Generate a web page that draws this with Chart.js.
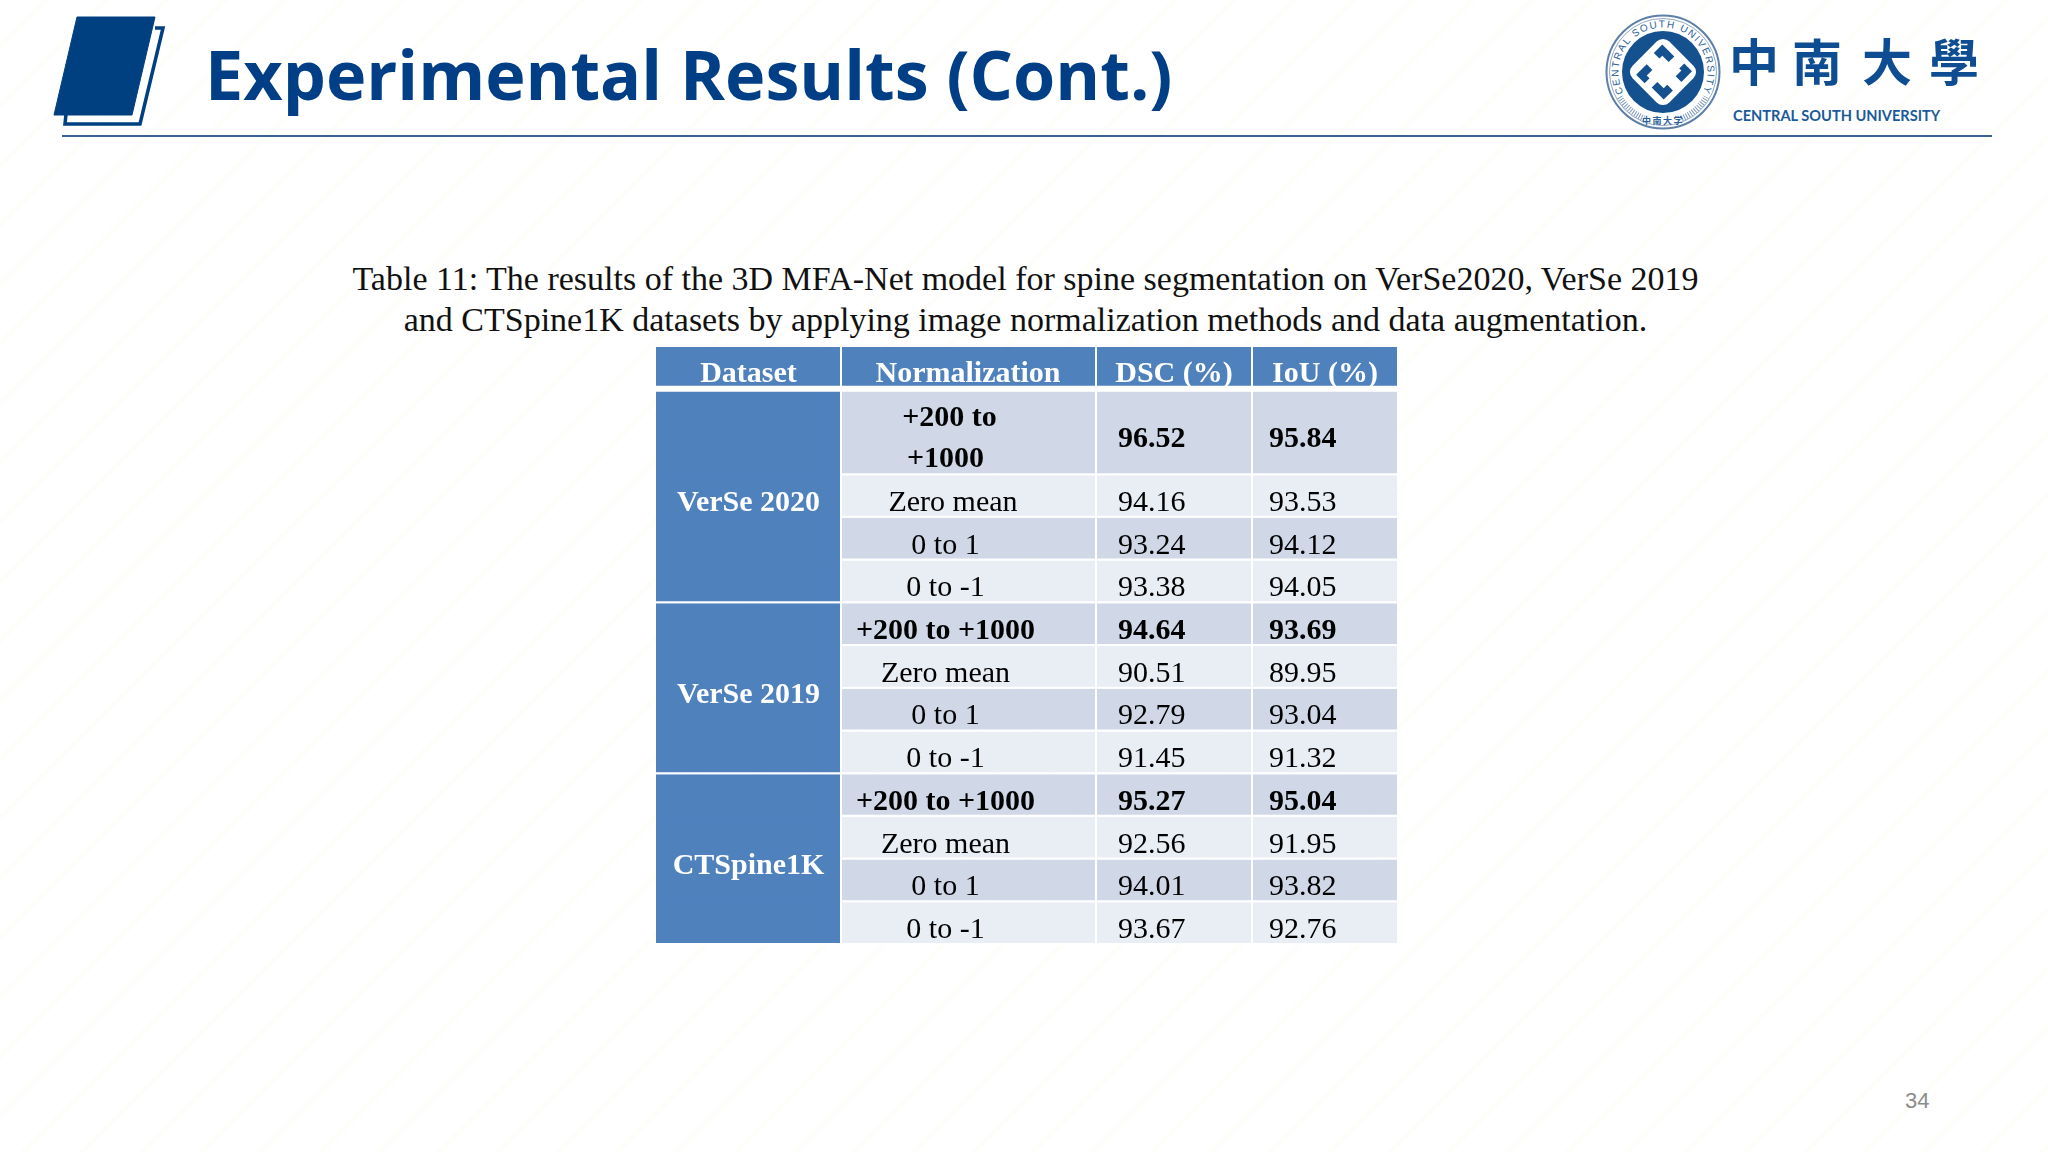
<!DOCTYPE html>
<html>
<head>
<meta charset="utf-8">
<title>Experimental Results (Cont.)</title>
<script src="https://cdn.jsdelivr.net/npm/chart.js@4"></script>
<style>
  html, body { margin: 0; padding: 0; width: 2048px; height: 1152px; overflow: hidden; }
  body { position: relative; background: repeating-linear-gradient(135deg, #ffffff 0, #ffffff 30px, #fdfdfa 31px, #fdfdfa 35px, #ffffff 36px, #ffffff 42px); }
  .abs { position: absolute; white-space: nowrap; }
  #slideTitle { left: 205px; top: 29px; font: 700 68.3px/90px "Open Sans", sans-serif; color: #003f85; }
  .caption { left: 0; width: 2051px; text-align: center; font: 34px/42px "Liberation Serif", serif; color: #111; }
  #pageNo { left: 1905px; top: 1087px; font: 22px/28px "Liberation Sans", sans-serif; color: #8c8c8c; }
  .uni { top: 26px; font: 700 50px/66px "Noto Sans CJK TC", sans-serif; color: #0e4d92; }
  #uniEn { left: 1733px; top: 106px; font: 700 14.6px/20px Lato, sans-serif; color: #1a5a9a; }
  #tableChart { position: absolute; left: 656px; top: 347px; }
  svg { position: absolute; left: 0; top: 0; }
</style>
</head>
<body>
<svg width="2048" height="1152" viewBox="0 0 2048 1152">
  <path d="M155 28 L163 28 L140 124 L65 124 L66 114" fill="none" stroke="#004080" stroke-width="3.5"/>
  <path d="M77 17 L155 17 L132 115 L54 115 Z" fill="#004080" stroke="#004080" stroke-width="1" stroke-linejoin="round"/>
  <line x1="62" y1="136" x2="1992" y2="136" stroke="#3b6390" stroke-width="2"/>

  <circle cx="1663" cy="72" r="56.5" fill="#fff" stroke="#5d7fa8" stroke-width="2"/>
  <circle cx="1663" cy="72" r="53.5" fill="none" stroke="#8fa8c4" stroke-width="1"/>
  <path d="M1619.7 97 A50 50 0 0 0 1644.3 118.4" fill="none" stroke="#7f99b8" stroke-width="6" stroke-dasharray="1 1.5"/>
  <path d="M1681.7 118.4 A50 50 0 0 0 1706.3 97" fill="none" stroke="#7f99b8" stroke-width="6" stroke-dasharray="1 1.5"/>
  <circle cx="1663" cy="72" r="41" fill="#15508f"/>
  <path id="sealArc" d="M1624.5 94.3 A44.5 44.5 0 1 1 1701.5 94.3" fill="none"/>
  <text font-family="Liberation Sans" font-size="10" fill="#2c5f99" letter-spacing="1.5" text-anchor="middle"><textPath href="#sealArc" startOffset="50%">CENTRAL SOUTH UNIVERSITY</textPath></text>
  <text x="1663" y="124" text-anchor="middle" font-family="Noto Sans CJK SC" font-size="9" font-weight="700" fill="#2c5f99" letter-spacing="1.5">中南大学</text>
  <g transform="translate(1663 72) rotate(45)">
    <rect x="-26" y="-26" width="52" height="52" rx="9" fill="#fff"/>
    <path d="M-20 -19 L-3 -19 L-3 -11 L-12 -11 L-12 -7 L-20 -7 Z" fill="#15508f"/>
    <path d="M-17 6 L-9 6 L-9 14 L-5 14 L-5 21 L-17 21 Z" fill="#15508f"/>
    <path d="M9 -21 L20 -21 L20 -6 L12 -6 L12 -14 L9 -14 Z" fill="#15508f"/>
    <path d="M3 11 L12 11 L12 6 L20 6 L20 19 L3 19 Z" fill="#15508f"/>
  </g>
</svg>

<div class="abs" id="slideTitle">Experimental Results (Cont.)</div>
<div class="abs uni" style="left:1729px">中</div>
<div class="abs uni" style="left:1792px">南</div>
<div class="abs uni" style="left:1862px">大</div>
<div class="abs uni" style="left:1929px">學</div>
<div class="abs" id="uniEn">CENTRAL SOUTH UNIVERSITY</div>
<div class="abs caption" style="top:258px">Table 11: The results of the 3D MFA-Net model for spine segmentation on VerSe2020, VerSe 2019</div>
<div class="abs caption" style="top:299px">and CTSpine1K datasets by applying image normalization methods and data augmentation.</div>
<div class="abs" id="pageNo">34</div>
<canvas id="tableChart" width="741" height="598"></canvas>

<script>
const columnHeaders = ['Dataset', 'Normalization', 'DSC (%)', 'IoU (%)'];
const datasetNames = ['VerSe 2020', 'VerSe 2019', 'CTSpine1K'];
const normalizations = ['+200 to +1000', 'Zero mean', '0 to 1', '0 to -1'];
const dscValues = [96.52, 94.16, 93.24, 93.38, 94.64, 90.51, 92.79, 91.45, 95.27, 92.56, 94.01, 93.67];
const iouValues = [95.84, 93.53, 94.12, 94.05, 93.69, 89.95, 93.04, 91.32, 95.04, 91.95, 93.82, 92.76];

// table columns on the x scale, the last edge is the table width
const colEdges = [0, 186, 441, 597, 741];
const HEAD = '#4f81bd', DARK = '#d0d8e8', LIGHT = '#e9edf4';

// first table row takes two slots because its label wraps
const slots = ['header'];
const slotRow = [-1];
dscValues.forEach((v, i) => {
  const n = i === 0 ? 2 : 1;
  for (let k = 0; k < n; k++) { slots.push(i + '-' + k); slotRow.push(i); }
});
const isRowEnd = s => s === slots.length - 1 || slotRow[s + 1] !== slotRow[s];
const isGroupEnd = s => isRowEnd(s) && (slotRow[s] + 1) % normalizations.length === 0;
const groupFirst = g => slotRow.indexOf(g * normalizations.length);
const groupLast = g => g === datasetNames.length - 1 ? slots.length - 1 : groupFirst(g + 1) - 1;

const bars = colEdges.slice(0, -1).map((start, c) => ({
  label: columnHeaders[c],
  data: slots.map(() => [start, colEdges[c + 1]]),
  grouped: false,
  borderSkipped: false,
  inflateAmount: 0,
  borderColor: '#ffffff',
  backgroundColor: slots.map((_, s) => {
    if (s === 0 || c === 0) return HEAD;
    return slotRow[s] % 2 === 0 ? DARK : LIGHT;
  }),
  borderWidth: slots.map((_, s) => {
    let bottom = 2;
    if (s === 0) bottom = 4;
    else if (c === 0 ? !isGroupEnd(s) : !isRowEnd(s)) bottom = 0;
    return { top: s === 1 ? 2 : 0, bottom, left: 0, right: c === 3 ? 0 : 2 };
  })
}));

// merged cells: same colour underneath so the slot seams do not show
const mergedCells = {
  id: 'mergedCells',
  beforeDatasetsDraw(chart) {
    const { ctx, scales: { x, y } } = chart;
    const fill = (c, s0, s1, color) => {
      const left = x.getPixelForValue(colEdges[c]);
      const gap = c === colEdges.length - 2 ? 0 : 2;
      const top = y.getPixelForValue(s0);
      ctx.fillStyle = color;
      ctx.fillRect(left, top, x.getPixelForValue(colEdges[c + 1]) - gap - left, y.getPixelForValue(s1) - top);
    };
    datasetNames.forEach((_, g) => fill(0, groupFirst(g), groupLast(g), HEAD));
    [1, 2, 3].forEach(c => fill(c, 1, 2, DARK));
  }
};

const tableText = {
  id: 'tableText',
  afterDatasetsDraw(chart) {
    const { ctx, scales: { x, y } } = chart;
    const put = (txt, px, slot, bold, color, align, dy) => {
      ctx.font = (bold ? 'bold ' : '') + '30px "Liberation Serif", serif';
      ctx.fillStyle = color;
      ctx.textAlign = align;
      ctx.textBaseline = 'alphabetic';
      ctx.fillText(txt, px, y.getPixelForValue(slot) + dy);
    };
    const headX = [92.5, 312, 518, 669];
    columnHeaders.forEach((h, c) => put(h, x.getPixelForValue(headX[c]), 0, true, '#ffffff', 'center', 14));

    datasetNames.forEach((name, g) => {
      put(name, x.getPixelForValue(92.5), (groupFirst(g) + groupLast(g)) / 2, true, '#ffffff', 'center', 14);
    });

    dscValues.forEach((v, i) => {
      const s = slotRow.indexOf(i);
      const bold = i % normalizations.length === 0;
      const wrapped = i === 0;
      const rowSlot = wrapped ? s + 0.5 : s;
      const dy = 14.3;
      if (wrapped) {
        put('+200 to', x.getPixelForValue(293.5), s, true, '#000000', 'center', 15);
        put('+1000', x.getPixelForValue(289.5), s + 1, true, '#000000', 'center', 13);
      } else {
        const nx = i === 1 ? 297 : 289.5;
        put(normalizations[i % normalizations.length], x.getPixelForValue(nx), s, bold, '#000000', 'center', dy);
      }
      put(v.toFixed(2), x.getPixelForValue(462), rowSlot, bold, '#000000', 'left', dy);
      put(iouValues[i].toFixed(2), x.getPixelForValue(613), rowSlot, bold, '#000000', 'left', dy);
    });
  }
};

new Chart(document.getElementById('tableChart').getContext('2d'), {
  type: 'bar',
  data: { labels: slots, datasets: bars },
  options: {
    indexAxis: 'y',
    responsive: false,
    animation: false,
    barPercentage: 1,
    categoryPercentage: 1,
    layout: { padding: 0 },
    plugins: { legend: { display: false }, tooltip: { enabled: false } },
    scales: {
      x: { type: 'linear', min: 0, max: colEdges[colEdges.length - 1], display: false },
      y: { type: 'category', display: false }
    }
  },
  plugins: [mergedCells, tableText]
});
</script>
</body>
</html>
